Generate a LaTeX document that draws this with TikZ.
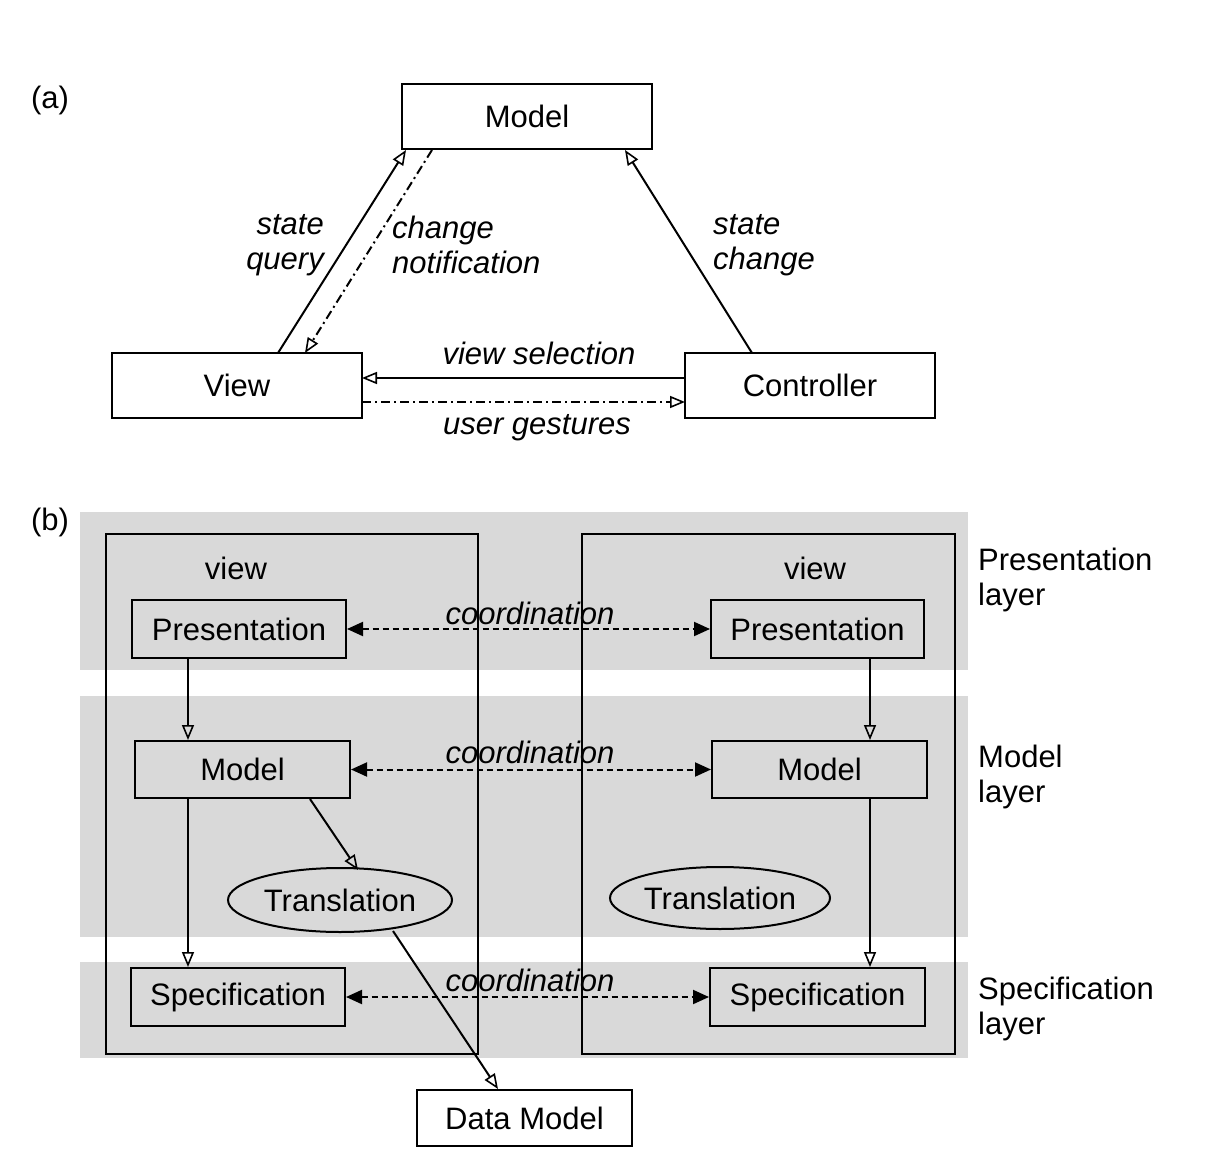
\documentclass[tikz,border=0pt]{standalone}
\usepackage{fontspec}
\setmainfont{Liberation Sans}
\usetikzlibrary{arrows.meta,shapes.geometric}
\begin{document}
\begin{tikzpicture}[x=1pt,y=-1pt,
  every node/.style={font=\fontsize{31}{35}\selectfont},
  box/.style={draw,line width=2pt,minimum width=0,inner sep=0},
  lab/.style={font=\fontsize{31}{35}\selectfont\itshape,align=left,inner sep=0},
  oa/.style={-{Triangle[open,length=15pt,width=12pt,line width=1.6pt]},line width=2pt},
  ca/.style={{Triangle[length=16pt,width=14pt]}-{Triangle[length=16pt,width=14pt]},line width=2pt,dash pattern=on 6pt off 4pt},
  dd/.style={dash pattern=on 9pt off 4pt on 2pt off 4pt}]
\useasboundingbox (0,0) rectangle (1212,1150);
\fill[white] (0,0) rectangle (1212,1150);
% (a)
\node at (50,100) {(a)};
\draw[line width=2pt] (402,84) rectangle (652,149);
\node (M) at (527,116.5) {Model};
\draw[line width=2pt] (112,353) rectangle (362,418); \node (V) at (237,385.5) {View};
\draw[line width=2pt] (685,353) rectangle (935,418); \node (C) at (810,385.5) {Controller};
\coordinate (q1) at (278,353); \coordinate (q2) at (406,150);
\draw[oa] (q1) -- (q2);
\coordinate (n1) at (432,150); \coordinate (n2) at (305,353);
\draw[oa,dd] (n1) -- (n2);
\coordinate (s1) at (752,353); \coordinate (s2) at (625,150);
\draw[oa] (s1) -- (s2);
\coordinate (vs1) at (685,378); \coordinate (vs2) at (362,378);
\draw[oa] (vs1) -- (vs2);
\coordinate (ug1) at (362,402); \coordinate (ug2) at (685,402);
\draw[oa,dd] (ug1) -- (ug2);
\node[lab,anchor=east,align=right] (lq) at (324,245) {state\\query};
\node[lab,anchor=west] (ln) at (392,245) {change\\notification};
\node[lab,anchor=west] (ls) at (713,245) {state\\change};
\node[lab] (lvs) at (539,353) {view selection};
\node[lab] (lug) at (537,428) {user gestures};
% (b)
\node at (50,522) {(b)};
\fill[gray!30] (80,512) rectangle (968,670);
\fill[gray!30] (80,696) rectangle (968,937);
\fill[gray!30] (80,962) rectangle (968,1058);
\draw[line width=2pt] (478,534) -- (106,534) -- (106,1054) -- (478,1054) -- cycle;
\draw[line width=2pt] (582,534) -- (955,534) -- (955,1054) -- (582,1054) -- cycle;
\node at (236,568) {view};
\node at (815,568) {view};
\node[box,minimum width=214pt,minimum height=58pt] (PL) at (239,629) {Presentation};
\node[box,minimum width=213pt,minimum height=58pt] (PR) at (817.5,629) {Presentation};
\node[box,minimum width=215pt,minimum height=57pt] (ML) at (242.5,769.5) {Model};
\node[box,minimum width=215pt,minimum height=57pt] (MR) at (819.5,769.5) {Model};
\node[box,ellipse,minimum width=224pt,minimum height=64pt] (TL) at (340,900) {Translation};
\node[box,ellipse,minimum width=220pt,minimum height=62pt] (TR) at (720,898) {Translation};
\node[box,minimum width=214pt,minimum height=58pt] (SL) at (238,997) {Specification};
\node[box,minimum width=215pt,minimum height=58pt] (SR) at (817.5,997) {Specification};
\node[box,fill=white,minimum width=215pt,minimum height=56pt] (DM) at (524.5,1118) {Data Model};
\draw[ca] (PL.east) -- (PR.west);
\draw[ca] (ML.east) -- (MR.west);
\draw[ca] (SL.east) -- (SR.west);
\node[lab] at (530,613) {coordination};
\node[lab] at (530,752) {coordination};
\node[lab] at (530,980) {coordination};
\draw[oa] (PL.south -| 188,0) -- (ML.north -| 188,0);
\draw[oa] (ML.south -| 188,0) -- (SL.north -| 188,0);
\draw[oa] (PR.south -| 870,0) -- (MR.north -| 870,0);
\draw[oa] (MR.south -| 870,0) -- (SR.north -| 870,0);
\draw[oa] (ML.south -| 310,0) -- (358,870);
\draw[oa] (393,931) -- (DM.north -| 498,0);
\node[align=left,anchor=west,inner sep=0] at (978,580) {Presentation\\layer};
\node[align=left,anchor=west,inner sep=0] at (978,777) {Model\\layer};
\node[align=left,anchor=west,inner sep=0] at (978,1009) {Specification\\layer};
\end{tikzpicture}
\end{document}
